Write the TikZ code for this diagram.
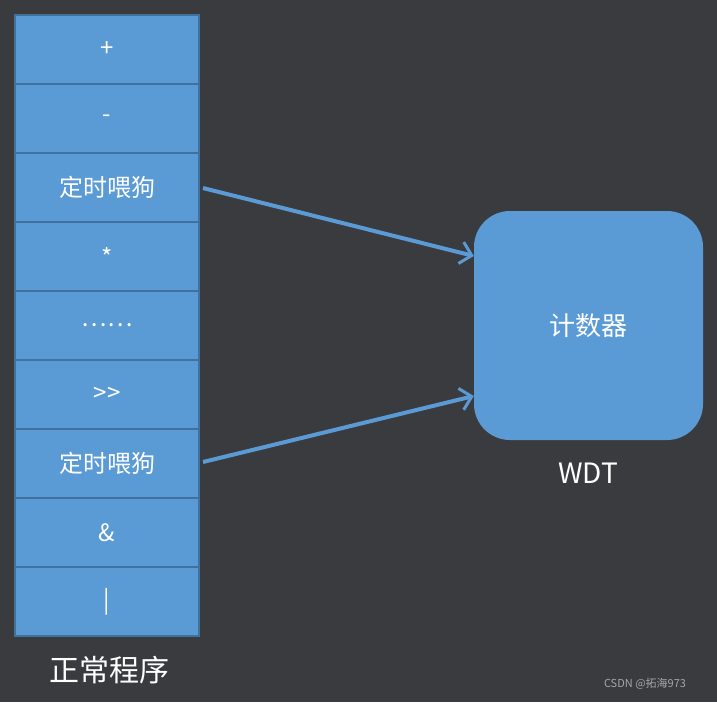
\documentclass[tikz,border=0pt]{standalone}
\usepackage{fontspec}
\setmainfont{Noto Sans CJK SC}
\newfontfamily\monof{DejaVu Sans Mono}
\usetikzlibrary{arrows.meta}
\definecolor{bg}{HTML}{3A3B3F}
\definecolor{blu}{HTML}{5B9BD5}
\definecolor{bord}{HTML}{41719C}
\tikzset{cell/.style={draw=bord,line width=1.5pt,fill=blu,minimum width=184pt,minimum height=69pt,text=white,font=\fontsize{24}{28}\selectfont,inner sep=0pt},
arr/.style={draw=blu,line width=4pt,-{Straight Barb[length=11pt,width=22pt,line width=3pt]}},
lab/.style={text=white,inner sep=0pt}}
\begin{document}
\begin{tikzpicture}[x=1pt,y=-1pt]
\fill[bg] (0,0) rectangle (717,702);
\useasboundingbox (0,0) rectangle (717,702);
\foreach \t [count=\i] in {+,-,定时喂狗,*,……,>{}>,定时喂狗,\&,|}{
  \node[cell] (r\i) at (107,{15+69*(\i-0.5)}) {\t};
}
\node[draw=none,fill=blu,rounded corners=36pt,minimum width=229pt,minimum height=229pt,text=white,font=\fontsize{26}{30}\selectfont] (w) at (588.5,325.5) {计数器};
\draw[arr] (203,188) -- (w.west |- 0,256);
\draw[arr] (203,462) -- (w.west |- 0,396);
\node[lab,font=\fontsize{28}{32}\selectfont] (wdt) at (588,473) {WDT};
\node[lab,font=\fontsize{30}{34}\selectfont] (zc) at (109,670) {正常程序};
\node[text=gray!70,inner sep=0pt,font=\fontsize{11}{13}\selectfont] (wm) at (645,684) {CSDN @拓海973};
\end{tikzpicture}
\end{document}
